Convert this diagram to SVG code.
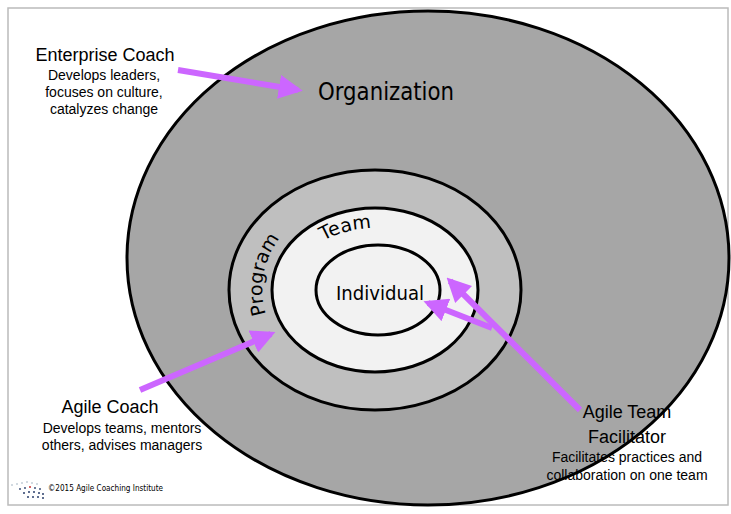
<svg xmlns="http://www.w3.org/2000/svg" width="731" height="514" viewBox="0 0 731 514">
<style>
.ring{stroke:#000;stroke-width:3}
.arr{stroke:#cc66ff;stroke-width:6;fill:none;marker-end:url(#ah)}
.t{font-family:"Liberation Sans",Arial,sans-serif;fill:#000;text-anchor:middle}
.v{font-family:"DejaVu Sans",Verdana,sans-serif;fill:#000}
.dot{fill:#2b3f6b}
</style>
<defs>
<marker id="ah" viewBox="0 0 10 10" refX="8" refY="5" markerWidth="4" markerHeight="4" orient="auto" markerUnits="strokeWidth">
<path d="M0,0 L10,5 L0,10 z" fill="#cc66ff"/>
</marker>
<path id="pp" d="M265,311 A113 95 0 0 1 278,241"/>
<path id="tp" d="M309,251 A85 62 0 0 1 389,229"/>
</defs>
<rect x="8" y="8" width="720" height="497" fill="#fff" stroke="#bbb" stroke-width="1.5"/>
<g id="organization"><ellipse class="ring" cx="428" cy="258" rx="301" ry="247" fill="#a6a6a6"/>
<text class="v" x="318" y="100" font-size="24" textLength="136" lengthAdjust="spacingAndGlyphs">Organization</text></g>
<g id="program"><ellipse class="ring" cx="375" cy="290" rx="146" ry="120" fill="#bfbfbf"/>
<text class="v" font-size="19"><textPath href="#pp" startOffset="50%" text-anchor="middle">Program</textPath></text></g>
<g id="team"><ellipse class="ring" cx="375" cy="290" rx="103" ry="82" fill="#f2f2f2"/>
<text class="v" font-size="19"><textPath href="#tp" startOffset="50%" text-anchor="middle">Team</textPath></text></g>
<g id="individual"><ellipse class="ring" cx="378" cy="290" rx="62" ry="45" fill="#f2f2f2"/>
<text class="v" x="336" y="300" font-size="19" textLength="88" lengthAdjust="spacingAndGlyphs">Individual</text></g>
<g id="connectors">
<line class="arr" x1="178" y1="70" x2="298" y2="90"/>
<line class="arr" x1="140" y1="390" x2="271" y2="334"/>
<line class="arr" x1="580" y1="410" x2="450" y2="281"/>
<line class="arr" x1="492" y1="328" x2="428" y2="303"/>
</g>
<g id="enterprise-coach">
<text class="t" x="105" y="61" font-size="18">Enterprise Coach</text>
<text class="t" x="104" y="80" font-size="14">Develops leaders,</text>
<text class="t" x="104" y="97" font-size="14">focuses on culture,</text>
<text class="t" x="104" y="114" font-size="14">catalyzes change</text>
</g>
<g id="agile-coach">
<text class="t" x="110" y="413" font-size="18">Agile Coach</text>
<text class="t" x="122" y="433" font-size="14">Develops teams, mentors</text>
<text class="t" x="122" y="450" font-size="14">others, advises managers</text>
</g>
<g id="agile-team-facilitator">
<text class="t" x="627" y="418" font-size="18">Agile Team</text>
<text class="t" x="627" y="443" font-size="18">Facilitator</text>
<text class="t" x="627" y="462" font-size="14">Facilitates practices and</text>
<text class="t" x="627" y="480" font-size="14">collaboration on one team</text>
</g>
<g id="logo">
<circle cx="12" cy="485" r="0.8" fill="#9ab"/><circle cx="17" cy="484" r="0.8" fill="#9ab"/><circle cx="22" cy="483" r="0.8" fill="#9ab"/><circle cx="27" cy="482" r="0.8" fill="#9ab"/><circle cx="32" cy="483" r="0.8" fill="#9ab"/><circle cx="37" cy="484" r="0.8" fill="#9ab"/>
<circle class="dot" cx="20" cy="489" r="0.9"/><circle class="dot" cx="25" cy="488" r="0.9"/><circle cx="30" cy="487" r="1" fill="#c33"/><circle class="dot" cx="35" cy="488" r="0.9"/><circle class="dot" cx="40" cy="489" r="0.9"/>
<circle class="dot" cx="24" cy="493" r="1"/><circle class="dot" cx="29" cy="492" r="1"/><circle class="dot" cx="34" cy="492" r="1"/><circle class="dot" cx="39" cy="493" r="1"/><circle class="dot" cx="43" cy="494" r="1"/>
<circle class="dot" cx="28" cy="497" r="1"/><circle class="dot" cx="33" cy="497" r="1"/><circle class="dot" cx="38" cy="497" r="1"/><circle class="dot" cx="43" cy="498" r="1"/>
<text class="v" x="48" y="491" font-size="8.5" textLength="115" lengthAdjust="spacingAndGlyphs">©2015 Agile Coaching Institute</text>
</g>
</svg>
